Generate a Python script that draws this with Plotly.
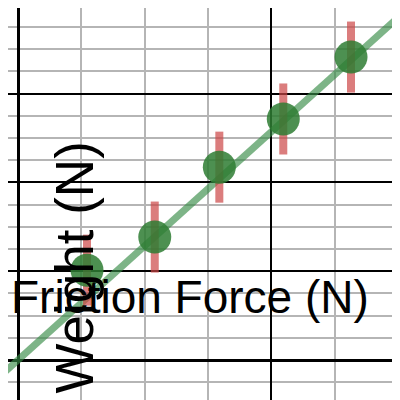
import plotly.graph_objects as go

# data (in graph units)
friction = [1.09, 2.16, 3.18, 4.19, 5.26]
weight = [4.05, 5.54, 8.69, 10.86, 13.65]
err = [1.6, 1.6, 1.6, 1.6, 1.6]
fit_x = [-1, 7]
slope = 2.57
fit_y = [slope * v for v in fit_x]

fig = go.Figure()

fig.add_trace(go.Scatter(x=fit_x, y=fit_y, mode='lines',
                         line=dict(color='rgba(56,140,70,0.65)', width=7)))

# error bars as thick vertical segments
for xv, yv, e in zip(friction, weight, err):
    fig.add_trace(go.Scatter(x=[xv, xv], y=[yv - e, yv + e], mode='lines',
                             line=dict(color='rgba(204,70,70,0.7)', width=8)))

fig.add_trace(go.Scatter(x=friction, y=weight, mode='markers',
                         marker=dict(color='rgba(46,125,50,0.85)', size=33)))

axis_common = dict(showticklabels=False, ticks='', zeroline=True,
                   zerolinecolor='black', zerolinewidth=3,
                   gridcolor='black', gridwidth=2, dtick=4, tick0=0,
                   minor=dict(dtick=1, showgrid=True, gridcolor='#b5b5b5', gridwidth=1.5))

fig.update_xaxes(range=[-0.158, 6.16], **axis_common)
fig.update_yaxes(range=[-2.16, 15.86], **axis_common)

fig.add_annotation(text='Friction Force (N)', x=0.455, y=0.2075, xref='paper', yref='paper',
                   showarrow=False, font=dict(family='Liberation Sans, Arial', size=46, color='black'))
fig.add_annotation(text='Weight (N)', x=0.085, y=0.67, xref='paper', yref='paper',
                   showarrow=False, textangle=-90,
                   font=dict(family='Liberation Sans, Arial', size=53, color='black'))

fig.update_layout(width=400, height=400, margin=dict(l=0, r=0, t=0, b=0),
                  plot_bgcolor='white', paper_bgcolor='white', showlegend=False)

fig.write_html("out.html")
